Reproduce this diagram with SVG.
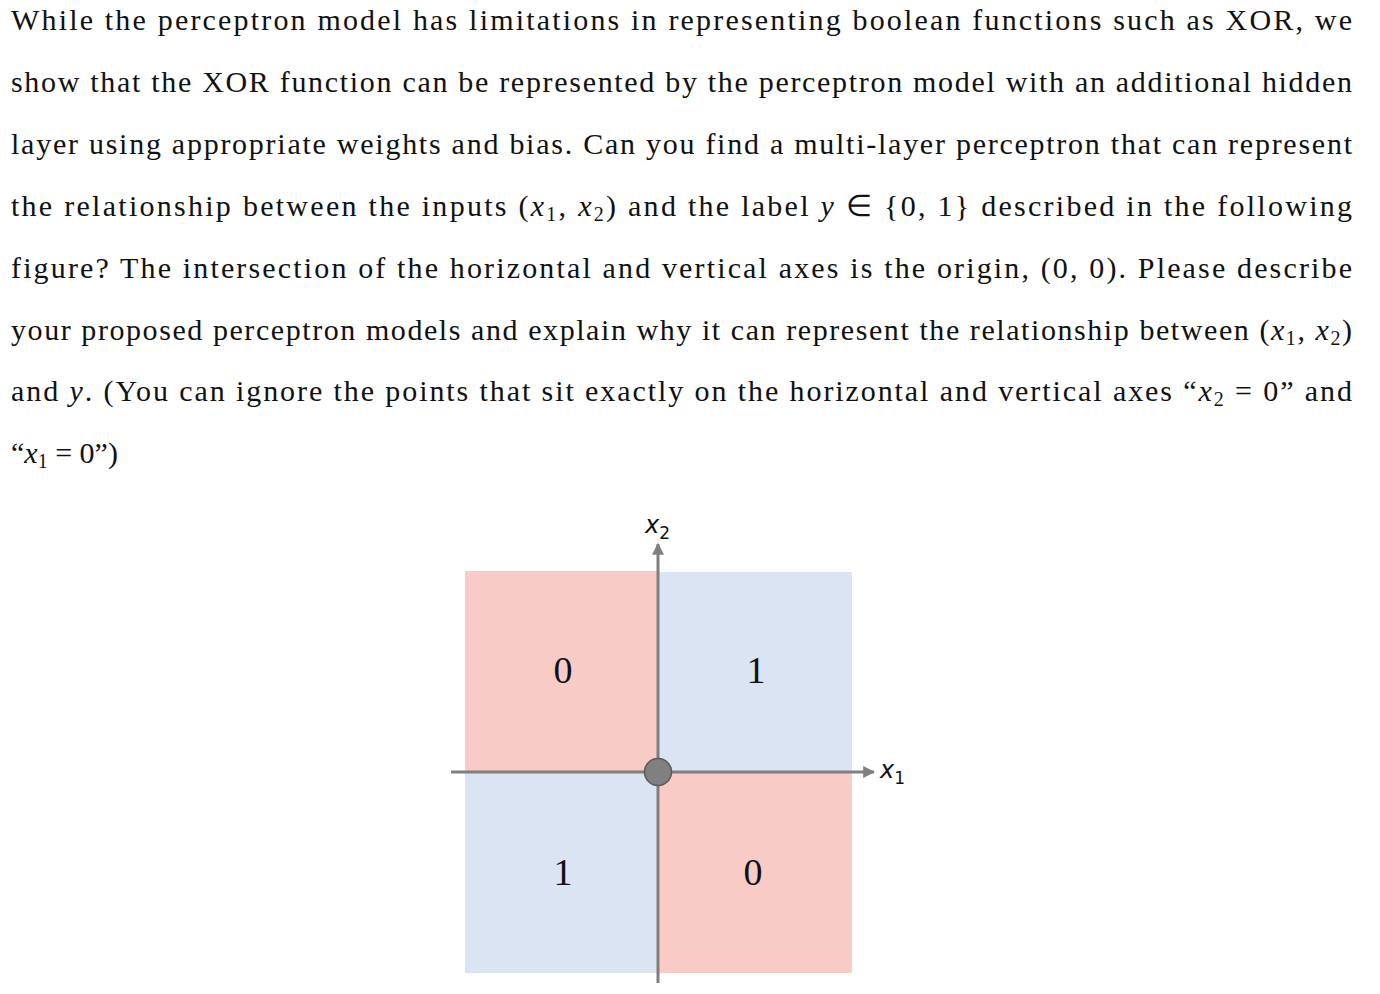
<svg xmlns="http://www.w3.org/2000/svg" width="1380" height="994" viewBox="0 0 1380 994">
<style>
.t{font-family:"Liberation Serif",serif;font-size:30px;fill:#111}
.m{font-style:italic}
.s{font-size:20px}
.q{font-family:"Liberation Serif",serif;font-size:38px;fill:#111;text-anchor:middle}
.ax{font-family:"DejaVu Sans",sans-serif;font-style:italic;font-size:24px;fill:#111}
.axl{stroke:#7f7f7f;stroke-width:3;fill:none}
</style>
<defs><marker id="ah" viewBox="0 0 10 10" refX="9" refY="5" markerWidth="4" markerHeight="4" orient="auto"><path d="M0,0L10,5L0,10z" fill="#7f7f7f"/></marker></defs>
<rect width="1380" height="994" fill="#fff"/>
<g id="text">
<text class="t" x="11" y="30" textLength="1341" lengthAdjust="spacing">While the perceptron model has limitations in representing boolean functions such as XOR, we</text>
<text class="t" x="11" y="92" textLength="1341" lengthAdjust="spacing">show that the XOR function can be represented by the perceptron model with an additional hidden</text>
<text class="t" x="11" y="154" textLength="1341" lengthAdjust="spacing">layer using appropriate weights and bias. Can you find a multi-layer perceptron that can represent</text>
<text class="t" x="11" y="216" textLength="1341" lengthAdjust="spacing">the relationship between the inputs (<tspan class="m">x</tspan><tspan class="s" dy="5">1</tspan><tspan dy="-5">, </tspan><tspan class="m">x</tspan><tspan class="s" dy="5">2</tspan><tspan dy="-5">) and the label </tspan><tspan class="m">y</tspan> ∈ {0, 1} described in the following</text>
<text class="t" x="11" y="278" textLength="1341" lengthAdjust="spacing">figure? The intersection of the horizontal and vertical axes is the origin, (0, 0). Please describe</text>
<text class="t" x="11" y="340" textLength="1341" lengthAdjust="spacing">your proposed perceptron models and explain why it can represent the relationship between (<tspan class="m">x</tspan><tspan class="s" dy="5">1</tspan><tspan dy="-5">, </tspan><tspan class="m">x</tspan><tspan class="s" dy="5">2</tspan><tspan dy="-5">)</tspan></text>
<text class="t" x="11" y="401" textLength="1341" lengthAdjust="spacing">and <tspan class="m">y</tspan>. (You can ignore the points that sit exactly on the horizontal and vertical axes “<tspan class="m">x</tspan><tspan class="s" dy="5">2</tspan><tspan dy="-5"> = 0” and</tspan></text>
<text class="t" x="11" y="463">“<tspan class="m">x</tspan><tspan class="s" dy="5">1</tspan><tspan dy="-5"> = 0”)</tspan></text>
</g>
<g id="quadrants">
<rect x="465" y="571" width="193" height="201" fill="#f8cbc7"/>
<rect x="658" y="572" width="194" height="200" fill="#dae4f2"/>
<rect x="465" y="772" width="193" height="201" fill="#dae4f2"/>
<rect x="658" y="772" width="194" height="201" fill="#f8cbc7"/>
<text class="q" x="563" y="683">0</text>
<text class="q" x="756" y="683">1</text>
<text class="q" x="563" y="885">1</text>
<text class="q" x="753" y="885">0</text>
</g>
<g id="connectors">
<line class="axl" x1="451" y1="772" x2="874" y2="772" marker-end="url(#ah)"/>
<line class="axl" x1="658" y1="983" x2="658" y2="544" marker-end="url(#ah)"/>
</g>
<g id="origin"><circle cx="658" cy="772" r="13.5" fill="#808080" stroke="#5a5a5a" stroke-width="1.5"/></g>
<g id="labels">
<text class="ax" x="645" y="533">x<tspan font-size="17" dy="6" font-style="normal">2</tspan></text>
<text class="ax" x="880" y="778">x<tspan font-size="17" dy="6" font-style="normal">1</tspan></text>
</g>
</svg>
